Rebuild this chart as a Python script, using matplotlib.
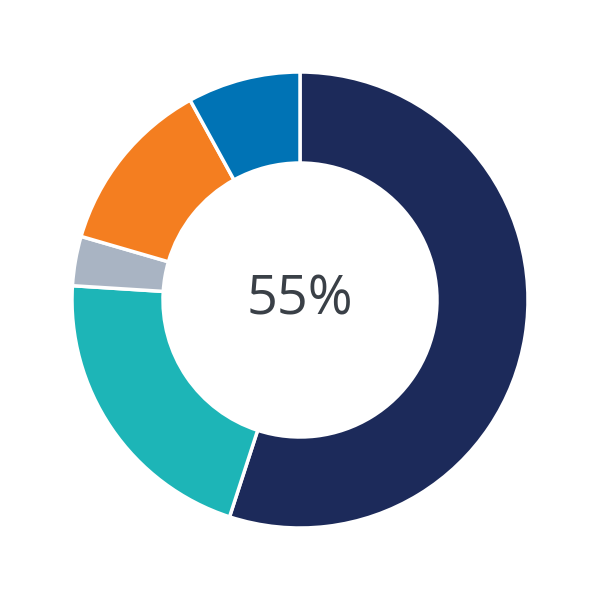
import matplotlib
matplotlib.use("Agg")
import matplotlib.pyplot as plt

labels = ["Navy", "Teal", "Gray", "Orange", "Blue"]
values = [55, 21, 3.5, 12.5, 8]
colors = ["#1c2a5a", "#1db5b7", "#a9b4c3", "#f47e20", "#0073b5"]
center_text = "55%"

fig = plt.figure(figsize=(6, 6), dpi=100)
ax = fig.add_axes([0, 0, 1, 1])
R = 228
ax.pie(values, colors=colors, startangle=90, counterclock=False, radius=1.0,
       wedgeprops=dict(width=91 / R, edgecolor="white", linewidth=2.5))
lim = 300 / R
ax.set_xlim(-lim, lim)
ax.set_ylim(-lim, lim)
ax.set_aspect("equal")
ax.axis("off")
ax.text(0, 0, center_text, ha="center", va="center", fontsize=39,
        color="#3a4047", family=["Open Sans", "DejaVu Sans"])
fig.savefig("out.png", dpi=100)
